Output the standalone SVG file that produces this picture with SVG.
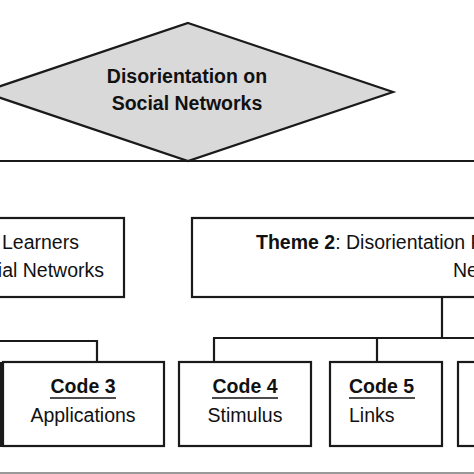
<svg xmlns="http://www.w3.org/2000/svg" width="474" height="474" viewBox="0 0 474 474">
<style>
.box{fill:#fff;stroke:#1a1a1a;stroke-width:2.2}
.ln{fill:none;stroke:#1a1a1a;stroke-width:2.2}
.t{font-family:"Liberation Sans",Arial,sans-serif;font-size:19.5px;fill:#111}
.b{font-weight:bold}
.u{stroke:#111;stroke-width:1.6}
</style>
<rect width="474" height="474" fill="#fff"/>
<g id="connectors">
<line class="ln" x1="0" y1="161" x2="474" y2="161"/>
<polyline class="ln" points="0,341 97,341 97,362"/>
<line class="ln" x1="213" y1="338" x2="474" y2="338"/>
<line class="ln" x1="214" y1="338" x2="214" y2="362"/>
<line class="ln" x1="377" y1="338" x2="377" y2="362"/>
<line class="ln" x1="442" y1="297" x2="442" y2="338"/>
</g>
<g id="root">
<polygon points="188,23 393,92 188,161 -17,92" fill="#d9d9d9" stroke="#1a1a1a" stroke-width="2.2"/>
<text class="t b" x="187" y="83" text-anchor="middle">Disorientation on</text>
<text class="t b" x="187" y="110" text-anchor="middle">Social Networks</text>
</g>
<g id="theme1">
<rect class="box" x="-10" y="218" width="134" height="79"/>
<text class="t" x="2" y="249">Learners</text>
<text class="t" x="104" y="277" text-anchor="end">ial Networks</text>
</g>
<g id="theme2">
<rect class="box" x="192" y="218" width="292" height="79"/>
<text class="t" x="256" y="249"><tspan class="b">Theme 2</tspan>: Disorientation F</text>
<text class="t" x="453" y="277">Ne</text>
</g>
<g id="code3">
<rect class="box" x="3" y="362" width="161" height="84"/>
<line x1="1.5" y1="362" x2="1.5" y2="447" stroke="#1a1a1a" stroke-width="3"/>
<text class="t b" x="83" y="393" text-anchor="middle">Code 3</text>
<line class="u" x1="50" y1="398" x2="116" y2="398"/>
<text class="t" x="83" y="422" text-anchor="middle">Applications</text>
</g>
<g id="code4">
<rect class="box" x="179" y="362" width="132" height="84"/>
<text class="t b" x="245" y="393" text-anchor="middle">Code 4</text>
<line class="u" x1="212" y1="398" x2="278" y2="398"/>
<text class="t" x="245" y="422" text-anchor="middle">Stimulus</text>
</g>
<g id="code5">
<rect class="box" x="330" y="362" width="112" height="84"/>
<text class="t b" x="349" y="393">Code 5</text>
<line class="u" x1="349" y1="398" x2="415" y2="398"/>
<text class="t" x="349" y="422">Links</text>
</g>
<g id="code6">
<rect class="box" x="458" y="362" width="40" height="84"/>
</g>
<rect x="0" y="472" width="474" height="2" fill="#999"/>
</svg>
